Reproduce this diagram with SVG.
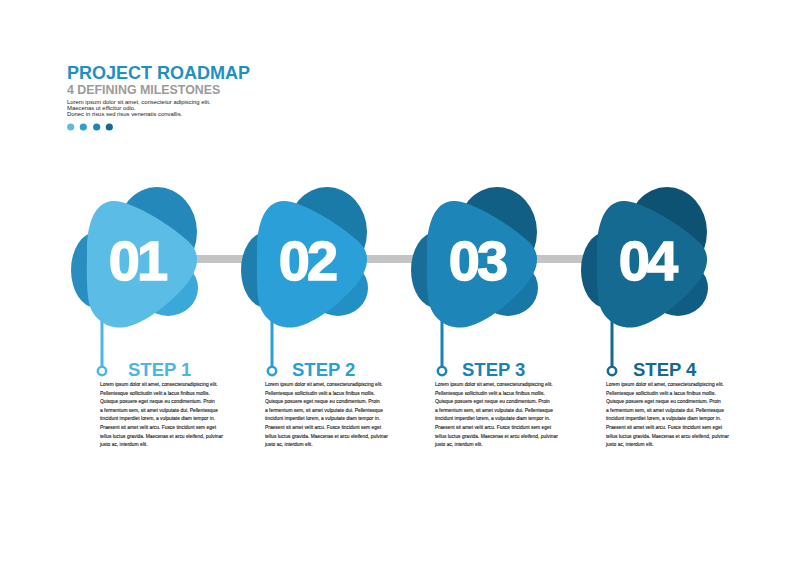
<svg xmlns="http://www.w3.org/2000/svg" xmlns:xlink="http://www.w3.org/1999/xlink" width="800" height="566" viewBox="0 0 800 566">
<defs>
<style>
.title{font-family:"Liberation Sans",Arial,sans-serif;font-weight:bold;font-size:18px;fill:#1E90C3}
.sub{font-family:"Liberation Sans",Arial,sans-serif;font-weight:bold;font-size:12.4px;fill:#9B9B9B}
.desc{font-family:"Liberation Sans",Arial,sans-serif;font-size:5.9px;fill:#1a1a1a}
.num{font-family:"Liberation Sans",Arial,sans-serif;font-weight:bold;font-size:56px;fill:#fff;stroke:#fff;stroke-width:1.4;letter-spacing:-3px;text-anchor:middle}
.step{font-family:"Liberation Sans",Arial,sans-serif;font-weight:bold;font-size:18.5px}
.para{font-family:"Liberation Sans",Arial,sans-serif;font-size:4.9px;fill:#1a1a1a;stroke:#1a1a1a;stroke-width:0.12}
.stem{stroke-width:3;fill:none}
.ring{stroke-width:2.5;fill:#fff}
</style>
<ellipse id="bTop" cx="22" cy="-26" rx="40" ry="45"/>
<ellipse id="bLeft" cx="-39" cy="12" rx="25" ry="38"/>
<ellipse id="bBr" cx="33" cy="30" rx="30" ry="28"/>
<path id="bFront" d="M -48,-9 C -48,-30 -42,-58 -20,-57 C 0,-56 40,-30 55,-15 C 66,-4 64,12 50,28 C 38,42 15,62 -5,68 C -25,74 -42,62 -46,45 C -49,30 -48,10 -48,-9 Z"/>
<g id="paraText">
<text class="para" x="0" y="0">Lorem ipsum dolor sit amet, consecteturadipiscing elit.</text>
<text class="para" x="0" y="8.6">Pellentesque sollicitudin velit a lacus finibus mollis.</text>
<text class="para" x="0" y="17.2">Quisque posuere eget neque eu condimentum. Proin</text>
<text class="para" x="0" y="25.8">a fermentum sem, sit amet vulputate dui. Pellentesque</text>
<text class="para" x="0" y="34.4"> tincidunt imperdiet lorem, a vulputate diam tempor in.</text>
<text class="para" x="0" y="43">Praesent sit amet velit arcu. Fusce tincidunt sem eget</text>
<text class="para" x="0" y="51.6">tellus luctus gravida. Maecenas et arcu eleifend, pulvinar</text>
<text class="para" x="0" y="60.2">justo ac, interdum elit.</text>
</g>
</defs>
<rect width="800" height="566" fill="#fff"/>

<g id="header">
<text class="title" x="67" y="79">PROJECT ROADMAP</text>
<text class="sub" x="67" y="94">4 DEFINING MILESTONES</text>
<text class="desc" x="67" y="103.8">Lorem ipsum dolor sit amet, consectetur adipiscing elit.</text>
<text class="desc" x="67" y="109.8">Maecenas ut efficitur odio.</text>
<text class="desc" x="67" y="116">Donec in risus sed risus venenatis convallis.</text>
<circle cx="70.7" cy="127" r="3.6" fill="#5BBDE6"/>
<circle cx="83.3" cy="127" r="3.6" fill="#2B9FD8"/>
<circle cx="96.7" cy="127" r="3.6" fill="#1D85B8"/>
<circle cx="109.3" cy="127" r="3.6" fill="#156A92"/>
</g>

<g id="connectors">
<line x1="135" y1="259" x2="645" y2="259" stroke="#C4C4C4" stroke-width="8"/>
</g>

<g id="step1">
<line class="stem" x1="102" y1="310" x2="102" y2="367" stroke="#4DB5E2"/>
<circle class="ring" cx="102" cy="371" r="4.2" stroke="#4DB5E2"/>
<g transform="translate(135,258)">
<use xlink:href="#bTop" fill="#2488BB"/>
<use xlink:href="#bLeft" fill="#2A8DBF"/>
<use xlink:href="#bBr" fill="#3BA8DA"/>
<use xlink:href="#bFront" fill="#5BBDE6"/>
<text class="num" x="2" y="22">01</text>
</g>
<text class="step" x="128" y="376" fill="#4DB5E2">STEP 1</text>
<use xlink:href="#paraText" transform="translate(100,386)"/>
</g>

<g id="step2">
<line class="stem" x1="272" y1="310" x2="272" y2="367" stroke="#2A9ED6"/>
<circle class="ring" cx="272" cy="371" r="4.2" stroke="#2A9ED6"/>
<g transform="translate(305,258)">
<use xlink:href="#bTop" fill="#1A7AA8"/>
<use xlink:href="#bLeft" fill="#1E7EAE"/>
<use xlink:href="#bBr" fill="#2290C4"/>
<use xlink:href="#bFront" fill="#2B9FD8"/>
<text class="num" x="2" y="22">02</text>
</g>
<text class="step" x="292" y="376" fill="#2A9ED6">STEP 2</text>
<use xlink:href="#paraText" transform="translate(265,386)"/>
</g>

<g id="step3">
<line class="stem" x1="442" y1="310" x2="442" y2="367" stroke="#1B82B5"/>
<circle class="ring" cx="442" cy="371" r="4.2" stroke="#1B82B5"/>
<g transform="translate(475,258)">
<use xlink:href="#bTop" fill="#125F86"/>
<use xlink:href="#bLeft" fill="#176E99"/>
<use xlink:href="#bBr" fill="#1877A6"/>
<use xlink:href="#bFront" fill="#1D85B8"/>
<text class="num" x="2" y="22">03</text>
</g>
<text class="step" x="462" y="376" fill="#1B82B5">STEP 3</text>
<use xlink:href="#paraText" transform="translate(435,386)"/>
</g>

<g id="step4">
<line class="stem" x1="612" y1="310" x2="612" y2="367" stroke="#146891"/>
<circle class="ring" cx="612" cy="371" r="4.2" stroke="#146891"/>
<g transform="translate(645,258)">
<use xlink:href="#bTop" fill="#0E5273"/>
<use xlink:href="#bLeft" fill="#0F5A7E"/>
<use xlink:href="#bBr" fill="#105D83"/>
<use xlink:href="#bFront" fill="#156A92"/>
<text class="num" x="2" y="22">04</text>
</g>
<text class="step" x="633" y="376" fill="#146891">STEP 4</text>
<use xlink:href="#paraText" transform="translate(606,386)"/>
</g>
</svg>
